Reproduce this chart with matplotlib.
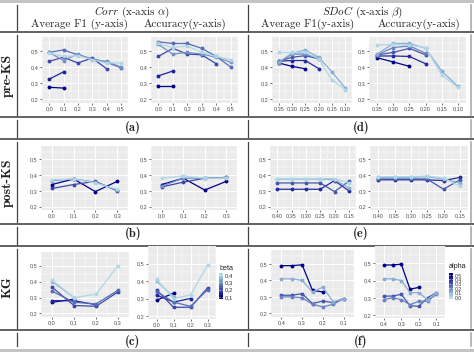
import numpy as np
import matplotlib.pyplot as plt
from matplotlib.colors import LinearSegmentedColormap

plt.rcParams['mathtext.fontset'] = 'cm'

W, H = 474, 352
cmap = LinearSegmentedColormap.from_list('blues', ['#00008B', '#ADD8E6'])
cmap_r = cmap.reversed()

# ---------------- data ----------------
# Corr panels: x = alpha, colour = beta
corr_x_pre = [0.0, 0.1, 0.2, 0.3, 0.4, 0.5]
corr_x_post = [0.0, 0.1, 0.2, 0.3]
corr_x_kg = [0.0, 0.1, 0.2, 0.3]
# SDoC panels: x = beta (decreasing), colour = alpha
sdoc_x_pre = [0.35, 0.30, 0.25, 0.20, 0.15, 0.10]
sdoc_x_post = [0.40, 0.35, 0.30, 0.25, 0.20, 0.15]
sdoc_x_kg = [0.40, 0.35, 0.30, 0.25, 0.20, 0.15, 0.10]

pre_corr_beta = [0.1, 0.15, 0.2, 0.25, 0.3, 0.4]
pre_corr_f1 = [
    [0.275, 0.27],
    [0.325, 0.37],
    [0.435, 0.46, 0.425, 0.455, 0.39],
    [0.49, 0.505, 0.475, 0.45, 0.43, 0.395],
    [0.49, 0.44, 0.48, 0.445, 0.435, 0.40],
    [0.485, 0.465, 0.47, 0.445, 0.425, 0.425],
]
pre_corr_acc = [
    [0.28, 0.28],
    [0.345, 0.375],
    [0.465, 0.515, 0.48, 0.475, 0.42],
    [0.555, 0.545, 0.545, 0.515, 0.465, 0.40],
    [0.54, 0.48, 0.49, 0.48, 0.46, 0.43],
    [0.545, 0.52, 0.53, 0.49, 0.465, 0.445],
]

pre_sdoc_alpha = [0.5, 0.4, 0.3, 0.2, 0.1, 0.0]
pre_sdoc_f1 = [
    [0.425, 0.404, 0.389],
    [0.436, 0.44, 0.44, 0.39],
    [0.435, 0.46, 0.47, 0.45],
    [0.425, 0.48, 0.48, 0.455],
    [0.43, 0.485, 0.505, 0.46, 0.37, 0.27],
    [0.49, 0.49, 0.49, 0.45, 0.32, 0.26],
]
pre_sdoc_acc = [
    [0.457, 0.431, 0.404],
    [0.468, 0.468, 0.465, 0.42],
    [0.475, 0.49, 0.515, 0.475],
    [0.475, 0.52, 0.53, 0.485],
    [0.48, 0.545, 0.545, 0.515, 0.375, 0.28],
    [0.535, 0.54, 0.535, 0.52, 0.35, 0.275],
]

post_corr_beta = [0.1, 0.2, 0.3, 0.4]
post_corr_f1 = [
    [0.34, 0.375, 0.295, 0.36],
    [0.315, 0.34, 0.36, 0.30],
    [0.365, 0.375, 0.355, 0.305],
    [0.37, 0.375, 0.35, 0.31],
]
post_corr_acc = [
    [0.34, 0.38, 0.305, 0.36],
    [0.325, 0.355, 0.38, 0.385],
    [0.33, 0.38, 0.38, 0.385],
    [0.38, 0.395, 0.38, 0.38],
]

post_sdoc_alpha = [0.4, 0.3, 0.1, 0.0]
post_sdoc_f1 = [
    [0.31, 0.31, 0.31, 0.31, 0.365, 0.30],
    [0.35, 0.35, 0.35, 0.35, 0.295, 0.36],
    [0.375, 0.375, 0.375, 0.375, 0.37, 0.32],
    [0.378, 0.378, 0.378, 0.378, 0.378, 0.35],
]
post_sdoc_acc = [
    [0.37, 0.37, 0.37, 0.37, 0.365, 0.385],
    [0.375, 0.375, 0.375, 0.375, 0.31, 0.37],
    [0.385, 0.385, 0.385, 0.39, 0.375, 0.35],
    [0.39, 0.39, 0.39, 0.395, 0.38, 0.33],
]

kg_corr_beta = [0.1, 0.15, 0.2, 0.25, 0.35, 0.4]
kg_corr_f1 = [
    [0.27, 0.29],
    [0.28, 0.28, 0.255],
    [0.365, 0.25, 0.245, 0.335],
    [0.34, 0.27, 0.26, 0.345],
    [0.40, 0.30],
    [0.41, 0.30, 0.32, 0.50],
]
kg_corr_acc = [
    [0.29, 0.33],
    [0.32, 0.28, 0.30],
    [0.35, 0.25, 0.25, 0.36],
    [0.34, 0.28, 0.255, 0.35],
    [0.40, 0.31],
    [0.41, 0.30, 0.32, 0.49],
]

kg_sdoc_alpha = [0.5, 0.3, 0.2, 0.1]
kg_sdoc_f1 = [
    [0.49, 0.49, 0.495, 0.34, 0.33],
    [0.31, 0.31, 0.32, 0.26, 0.275, 0.265, 0.29],
    [0.30, 0.30, 0.295, 0.255, 0.24, 0.255, 0.29],
    [0.41, 0.41, 0.40, 0.33, 0.36, 0.27, 0.29],
]
kg_sdoc_acc = [
    [0.49, 0.49, 0.495, 0.35, 0.36],
    [0.31, 0.31, 0.32, 0.255, 0.25, 0.30, 0.33],
    [0.29, 0.30, 0.29, 0.26, 0.28, 0.28, 0.32],
    [0.41, 0.41, 0.40, 0.33, 0.33, 0.29, 0.33],
]

y_ticks = [0.2, 0.3, 0.4, 0.5]


def lab(v, nd=1):
    return ('%.*f' % (nd, v)).replace('.', ',')


fig = plt.figure(figsize=(W / 100, H / 100), dpi=100)

# ---------------- table frame ----------------
ax0 = fig.add_axes([0, 0, 1, 1])
ax0.set_xlim(0, W)
ax0.set_ylim(H, 0)
ax0.axis('off')

ax0.axhspan(0, 2.5, color='#c4c4c4', lw=0)
ax0.axhspan(348.5, 352, color='#c4c4c4', lw=0)
for yy in [32, 117, 139, 224, 246, 330]:
    ax0.plot([0, W], [yy, yy], color='#555555', lw=1.3, solid_capstyle='butt')
rows = [(2.5, 32), (32, 117), (117, 139), (139, 224), (224, 246), (246, 330), (330, 348.5)]
for y0, y1 in rows:
    for xx in [17, 248]:
        ax0.plot([xx, xx], [y0 + 2.5, y1 - 2.5], color='#444444', lw=0.9)
    ax0.plot([471, 471], [y0 + 2.5, y1 - 2.5], color='#aaaaaa', lw=1.2)

hdr = dict(ha='center', va='center', fontsize=8, family='cmr10', color='#222222')
ax0.text(132, 12, r'$\mathit{Corr}$ (x-axis $\alpha$)', **hdr)
ax0.text(362, 12, r'$\mathit{SDoC}$ (x-axis $\beta$)', **hdr)
ax0.text(80, 24, 'Average F1 (y-axis)', **hdr)
ax0.text(185, 24, 'Accuracy(y-axis)', **hdr)
ax0.text(308, 24, 'Average F1(y-axis)', **hdr)
ax0.text(419, 24, 'Accuracy(y-axis)', **hdr)

rl = dict(ha='center', va='center', fontsize=10, family='cmb10', rotation=90, color='#222222')
ax0.text(8, 75, 'pre-KS', **rl)
ax0.text(8, 183, 'post-KS', **rl)
ax0.text(8, 287, 'KG', **rl)

sl = dict(ha='center', va='center', fontsize=9, family='cmb10', color='#222222')
for t, x, y in [('(a)', 133, 128), ('(d)', 361, 128), ('(b)', 133, 233),
                ('(e)', 361, 233), ('(c)', 133, 341), ('(f)', 361, 341)]:
    ax0.text(x, y, t, **sl)


# ---------------- panels ----------------
def panel(box, xs, series, vals, vmin, vmax, cm, xticks, nd, ylim=(0.178, 0.585)):
    l, t, r, b = box
    ax = fig.add_axes([l / W, 1 - b / H, (r - l) / W, (b - t) / H])
    ax.set_facecolor('#EBEBEB')
    for ys, v in zip(series, vals):
        c = cm((v - vmin) / (vmax - vmin))
        ax.plot(xs[:len(ys)], ys, '-o', color=c, lw=0.9, ms=2.8, mew=0)
    lo, hi = min(xs), max(xs)
    pad = 0.05 * (hi - lo)
    if xs[0] > xs[-1]:
        ax.set_xlim(hi + pad, lo - pad)
    else:
        ax.set_xlim(lo - pad, hi + pad)
    ax.set_ylim(*ylim)
    ax.set_xticks(xticks)
    ax.set_xticklabels([lab(v, nd) for v in xticks])
    step = abs(xticks[1] - xticks[0])
    mx = np.arange(min(xticks) - step / 2, max(xticks) + step, step)
    ax.set_xticks(mx, minor=True)
    ax.set_yticks(y_ticks)
    ax.set_yticklabels([lab(v) for v in y_ticks])
    ax.set_yticks([0.25, 0.35, 0.45, 0.55], minor=True)
    for s in ax.spines.values():
        s.set_visible(False)
    ax.tick_params(length=1.5, width=0.5, color='#333333', labelsize=4.0,
                   labelcolor='#4D4D4D', pad=1)
    ax.tick_params(which='minor', length=0)
    ax.grid(which='major', color='white', lw=0.7)
    ax.grid(which='minor', color='white', lw=0.35)
    ax.set_axisbelow(True)
    for lb in ax.get_xticklabels() + ax.get_yticklabels():
        lb.set_family('Liberation Sans')
    return ax


def legend(box, vmin, vmax, cm, ticks, title, tx, ty, fs):
    l, t, r, b = box
    lo = vmin - 0.08 * (vmax - vmin)
    hi = vmax + 0.08 * (vmax - vmin)
    cax = fig.add_axes([l / W, 1 - b / H, (r - l) / W, (b - t) / H])
    grad = np.linspace(lo, hi, 100)[:, None]
    cax.imshow(grad, aspect='auto', cmap=cm, vmin=vmin, vmax=vmax,
               extent=(0, 1, lo, hi), origin='lower')
    cax.set_ylim(lo, hi)
    cax.set_xticks([])
    cax.set_yticks(ticks)
    cax.set_yticklabels([lab(v) for v in ticks])
    cax.yaxis.tick_right()
    cax.tick_params(length=0, labelsize=fs, pad=1.5, labelcolor='#333333')
    for lb in cax.get_yticklabels():
        lb.set_family('Liberation Sans')
    for v in ticks:
        cax.plot([0, 0.25], [v, v], color='white', lw=0.4)
        cax.plot([0.75, 1], [v, v], color='white', lw=0.4)
    for s in cax.spines.values():
        s.set_visible(False)
    ax0.text(tx, ty, title, ha='left', va='center', fontsize=5.2,
             family='Liberation Sans', color='#222222')


corr6 = [0.0, 0.1, 0.2, 0.3, 0.4, 0.5]
corr4 = [0.0, 0.1, 0.2, 0.3]

# pre-KS
panel((42, 37, 128, 103), corr_x_pre, pre_corr_f1, pre_corr_beta, 0.1, 0.4, cmap, corr6, 1)
panel((151, 37, 238, 103), corr_x_pre, pre_corr_acc, pre_corr_beta, 0.1, 0.4, cmap, corr6, 1)
panel((272, 37, 352, 103), sdoc_x_pre, pre_sdoc_f1, pre_sdoc_alpha, 0.0, 0.5, cmap_r,
      [0.35, 0.30, 0.25, 0.20, 0.15, 0.10], 2)
panel((369, 37, 466, 103), sdoc_x_pre, pre_sdoc_acc, pre_sdoc_alpha, 0.0, 0.5, cmap_r,
      [0.35, 0.30, 0.25, 0.20, 0.15, 0.10], 2)

# post-KS
panel((41, 146, 128, 210), corr_x_post, post_corr_f1, post_corr_beta, 0.1, 0.4, cmap, corr4, 1)
panel((151, 146, 237, 210), corr_x_post, post_corr_acc, post_corr_beta, 0.1, 0.4, cmap, corr4, 1)
panel((270, 146, 356, 210), sdoc_x_post, post_sdoc_f1, post_sdoc_alpha, 0.0, 0.5, cmap_r,
      [0.40, 0.35, 0.30, 0.25, 0.20, 0.15], 2)
panel((370, 146, 468, 210), sdoc_x_post, post_sdoc_acc, post_sdoc_alpha, 0.0, 0.5, cmap_r,
      [0.40, 0.35, 0.30, 0.25, 0.20, 0.15], 2)

# KG
panel((41, 252, 129, 317), corr_x_kg, kg_corr_f1, kg_corr_beta, 0.1, 0.4, cmap, corr4, 1)
panel((148, 246, 216, 319), corr_x_kg, kg_corr_acc, kg_corr_beta, 0.1, 0.4, cmap, corr4, 1,
      ylim=(0.183, 0.60))
panel((271, 250, 354, 317), sdoc_x_kg, kg_sdoc_f1, kg_sdoc_alpha, 0.0, 0.5, cmap_r,
      [0.4, 0.3, 0.2, 0.1], 1)
panel((375, 246, 445, 318), sdoc_x_kg, kg_sdoc_acc, kg_sdoc_alpha, 0.0, 0.5, cmap_r,
      [0.4, 0.3, 0.2, 0.1], 1, ylim=(0.183, 0.60))

legend((219, 273, 223, 299), 0.1, 0.4, cmap, [0.1, 0.2, 0.3, 0.4], 'beta', 220, 268, 4.3)
legend((449, 273, 453, 299), 0.0, 0.5, cmap_r, [0.0, 0.1, 0.2, 0.3, 0.4, 0.5],
       'alpha', 449, 267, 3.7)

fig.savefig('out.png', dpi=100)
